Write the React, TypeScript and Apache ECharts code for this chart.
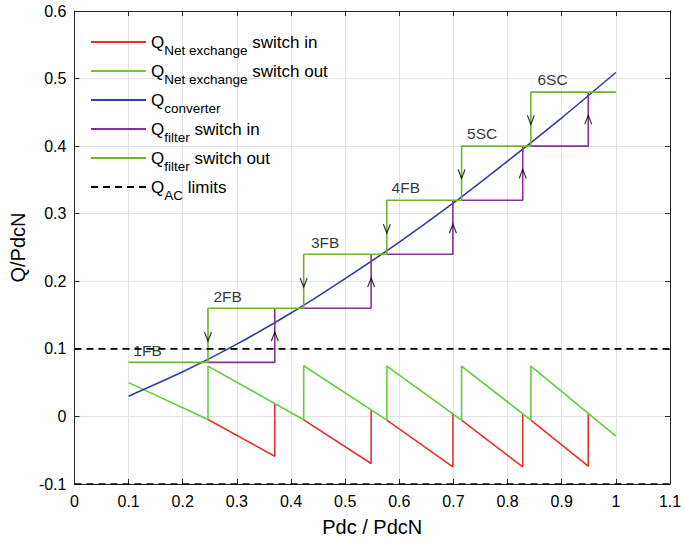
import React, { useEffect, useRef } from "react";
import * as echarts from "echarts";

const FONT = "'Liberation Sans', Arial, Helvetica, sans-serif";

// Tick settings
const xTicks = { min: 0, max: 1.1, interval: 0.1 };
const yTicks = { min: -0.1, max: 0.6, interval: 0.1 };

// Converter reactive power (blue curve)
const converterQ: number[][] = [
  [0.1, 0.03], [0.2, 0.066], [0.3, 0.107], [0.4, 0.153], [0.5, 0.204],
  [0.6, 0.258], [0.7, 0.316], [0.8, 0.378], [0.9, 0.442], [1.0, 0.509],
];

// Net exchange, switch out (green saw)
const netSwitchOut: number[][] = [
  [0.1, 0.05], [0.2466, -0.0045], [0.2466, 0.0745], [0.4234, -0.005], [0.4234, 0.075],
  [0.577, -0.0055], [0.577, 0.0745], [0.715, -0.0055], [0.715, 0.0745],
  [0.843, -0.0055], [0.843, 0.0745], [1.0, -0.029],
];

// Net exchange, switch in (red saw) — null separates segments
const netSwitchIn: (number[] | null)[] = [
  [0.2466, -0.0045], [0.37, -0.059], [0.37, 0.019], null,
  [0.4234, -0.005], [0.548, -0.0697], [0.548, 0.0093], null,
  [0.577, -0.0055], [0.699, -0.0747], [0.699, 0.0034], null,
  [0.715, -0.0055], [0.828, -0.0747], [0.828, 0.0034], null,
  [0.843, -0.0055], [0.949, -0.0737], [0.949, 0.0034],
];

// Filter, switch out (green staircase)
const filterSwitchOut: number[][] = [
  [0.1, 0.08], [0.2466, 0.08], [0.2466, 0.16], [0.4234, 0.16], [0.4234, 0.24],
  [0.577, 0.24], [0.577, 0.32], [0.715, 0.32], [0.715, 0.4], [0.843, 0.4],
  [0.843, 0.48], [1.0, 0.48],
];

// Filter, switch in (purple steps)
const filterSwitchIn: (number[] | null)[] = [
  [0.2466, 0.08], [0.37, 0.08], [0.37, 0.16], null,
  [0.4234, 0.16], [0.548, 0.16], [0.548, 0.24], null,
  [0.577, 0.24], [0.699, 0.24], [0.699, 0.32], null,
  [0.715, 0.32], [0.828, 0.32], [0.828, 0.4], null,
  [0.843, 0.4], [0.949, 0.4], [0.949, 0.48],
];

// AC limits (dashed)
const acLimits: (number[] | null)[] = [
  [0, 0.1], [1.1, 0.1], null, [0, -0.1], [1.1, -0.1],
];

// Arrow markers
const downArrows: number[][] = [
  [0.2466, 0.118], [0.4234, 0.198], [0.577, 0.278], [0.715, 0.359], [0.843, 0.439],
];
const upArrows: number[][] = [
  [0.37, 0.118], [0.548, 0.198], [0.699, 0.278], [0.828, 0.359], [0.949, 0.439],
];

// Step labels
const stepNames = ["1FB", "2FB", "3FB", "4FB", "5SC", "6SC"];
const stepLabelPos: number[][] = [
  [0.135, 0.098], [0.283, 0.178], [0.463, 0.258], [0.612, 0.339], [0.753, 0.418], [0.883, 0.4985],
];

const N1 = "Q_Net exchange switch in";
const N2 = "Q_Net exchange switch out";
const N3 = "Q_converter";
const N4 = "Q_filter switch in";
const N5 = "Q_filter switch out";
const N6 = "Q_AC limits";

const legendText: Record<string, string> = {
  [N1]: "{q|Q}{s|Net exchange}{q| switch in}",
  [N2]: "{q|Q}{s|Net exchange}{q| switch out}",
  [N3]: "{q|Q}{s|converter}",
  [N4]: "{q|Q}{s|filter}{q| switch in}",
  [N5]: "{q|Q}{s|filter}{q| switch out}",
  [N6]: "{q|Q}{s|AC}{q| limits}",
};

const COLORS = {
  red: "#e8302a",
  netGreen: "#62cd42",
  blue: "#2e3fa6",
  purple: "#8a2e9e",
  filterGreen: "#6fb52c",
  black: "#000000",
};

const AXIS_COLOR = "#262626";
const GRID_COLOR = "#e3e3e3";

export default function App() {
  const ref = useRef<HTMLDivElement>(null);

  useEffect(() => {
    if (!ref.current) return;
    const chart = echarts.init(ref.current, undefined, { renderer: "svg" });

    const lineBase = (name: string, data: any[], color: string, extra: any = {}) => ({
      name,
      type: "line",
      data,
      symbol: "none",
      showSymbol: false,
      connectNulls: false,
      lineStyle: { color, width: 1.6, ...(extra.lineStyle || {}) },
      itemStyle: { color },
      ...extra.rest,
    });

    const option: any = {
      animation: false,
      textStyle: { fontFamily: FONT },
      grid: { left: 69, right: 15, top: 11, bottom: 60, containLabel: false },
      legend: {
        orient: "vertical",
        left: 90,
        top: 27,
        padding: 0,
        itemGap: -1,
        itemWidth: 55,
        itemHeight: 14,
        selectedMode: false,
        data: [N1, N2, N3, N4, N5, N6],
        formatter: (name: string) => legendText[name] || name,
        itemStyle: { color: "transparent", borderColor: "transparent", borderWidth: 0 },
        textStyle: {
          color: "#000",
          fontFamily: FONT,
          rich: {
            q: { fontSize: 17, lineHeight: 18, fontFamily: FONT, color: "#000" },
            s: { fontSize: 13.5, lineHeight: 14, padding: [16, 0, 0, 0], fontFamily: FONT, color: "#000" },
          },
        },
      },
      xAxis: [
        {
          type: "value",
          ...xTicks,
          name: "Pdc / PdcN",
          nameLocation: "middle",
          nameGap: 33,
          nameTextStyle: { fontSize: 20, color: "#000", fontFamily: FONT },
          axisLine: { show: true, onZero: false, lineStyle: { color: AXIS_COLOR, width: 1 } },
          axisTick: { show: true, inside: true, length: 5, lineStyle: { color: AXIS_COLOR } },
          axisLabel: { fontSize: 16, color: "#000", margin: 9, fontFamily: FONT },
          splitLine: { show: true, lineStyle: { color: GRID_COLOR, width: 1 } },
        },
        {
          type: "value",
          ...xTicks,
          position: "top",
          axisLine: { show: true, onZero: false, lineStyle: { color: AXIS_COLOR, width: 1 } },
          axisTick: { show: true, inside: true, length: 5, lineStyle: { color: AXIS_COLOR } },
          axisLabel: { show: false },
          splitLine: { show: false },
        },
      ],
      yAxis: [
        {
          type: "value",
          ...yTicks,
          name: "Q/PdcN",
          nameLocation: "middle",
          nameGap: 37,
          nameTextStyle: { fontSize: 20, color: "#000", fontFamily: FONT },
          axisLine: { show: true, onZero: false, lineStyle: { color: AXIS_COLOR, width: 1 } },
          axisTick: { show: true, inside: true, length: 5, lineStyle: { color: AXIS_COLOR } },
          axisLabel: { fontSize: 16, color: "#000", margin: 8, fontFamily: FONT },
          splitLine: { show: true, lineStyle: { color: GRID_COLOR, width: 1 } },
        },
        {
          type: "value",
          ...yTicks,
          position: "right",
          axisLine: { show: true, onZero: false, lineStyle: { color: AXIS_COLOR, width: 1 } },
          axisTick: { show: true, inside: true, length: 5, lineStyle: { color: AXIS_COLOR } },
          axisLabel: { show: false },
          splitLine: { show: false },
        },
      ],
      series: [
        lineBase(N1, netSwitchIn, COLORS.red),
        lineBase(N2, netSwitchOut, COLORS.netGreen),
        lineBase(N3, converterQ, COLORS.blue, { rest: { smooth: 0.25 } }),
        lineBase(N4, filterSwitchIn, COLORS.purple),
        lineBase(N5, filterSwitchOut, COLORS.filterGreen),
        lineBase(N6, acLimits, COLORS.black, { lineStyle: { type: [7, 5], width: 1.6 } }),
        {
          name: "downArrows",
          type: "scatter",
          data: downArrows,
          symbol: "path://M0,0L5,9L10,0",
          symbolSize: [7, 9],
          itemStyle: { color: "transparent", borderColor: "#000", borderWidth: 1.3 },
          z: 5,
        },
        {
          name: "upArrows",
          type: "scatter",
          data: upArrows,
          symbol: "path://M0,9L5,0L10,9",
          symbolSize: [7, 9],
          itemStyle: { color: "transparent", borderColor: "#000", borderWidth: 1.3 },
          z: 5,
        },
        {
          name: "stepLabels",
          type: "scatter",
          data: stepLabelPos.map((p, i) => ({ value: p, name: stepNames[i] })),
          symbolSize: 0,
          itemStyle: { color: "transparent" },
          label: {
            show: true,
            position: "inside",
            formatter: (p: any) => p.name,
            fontSize: 15.5,
            color: "#000",
            fontFamily: FONT,
          },
          z: 6,
        },
      ],
    };

    chart.setOption(option);
    return () => chart.dispose();
  }, []);

  return <div ref={ref} style={{ width: 685, height: 544, position: "absolute", left: 0, top: 0 }} />;
}
